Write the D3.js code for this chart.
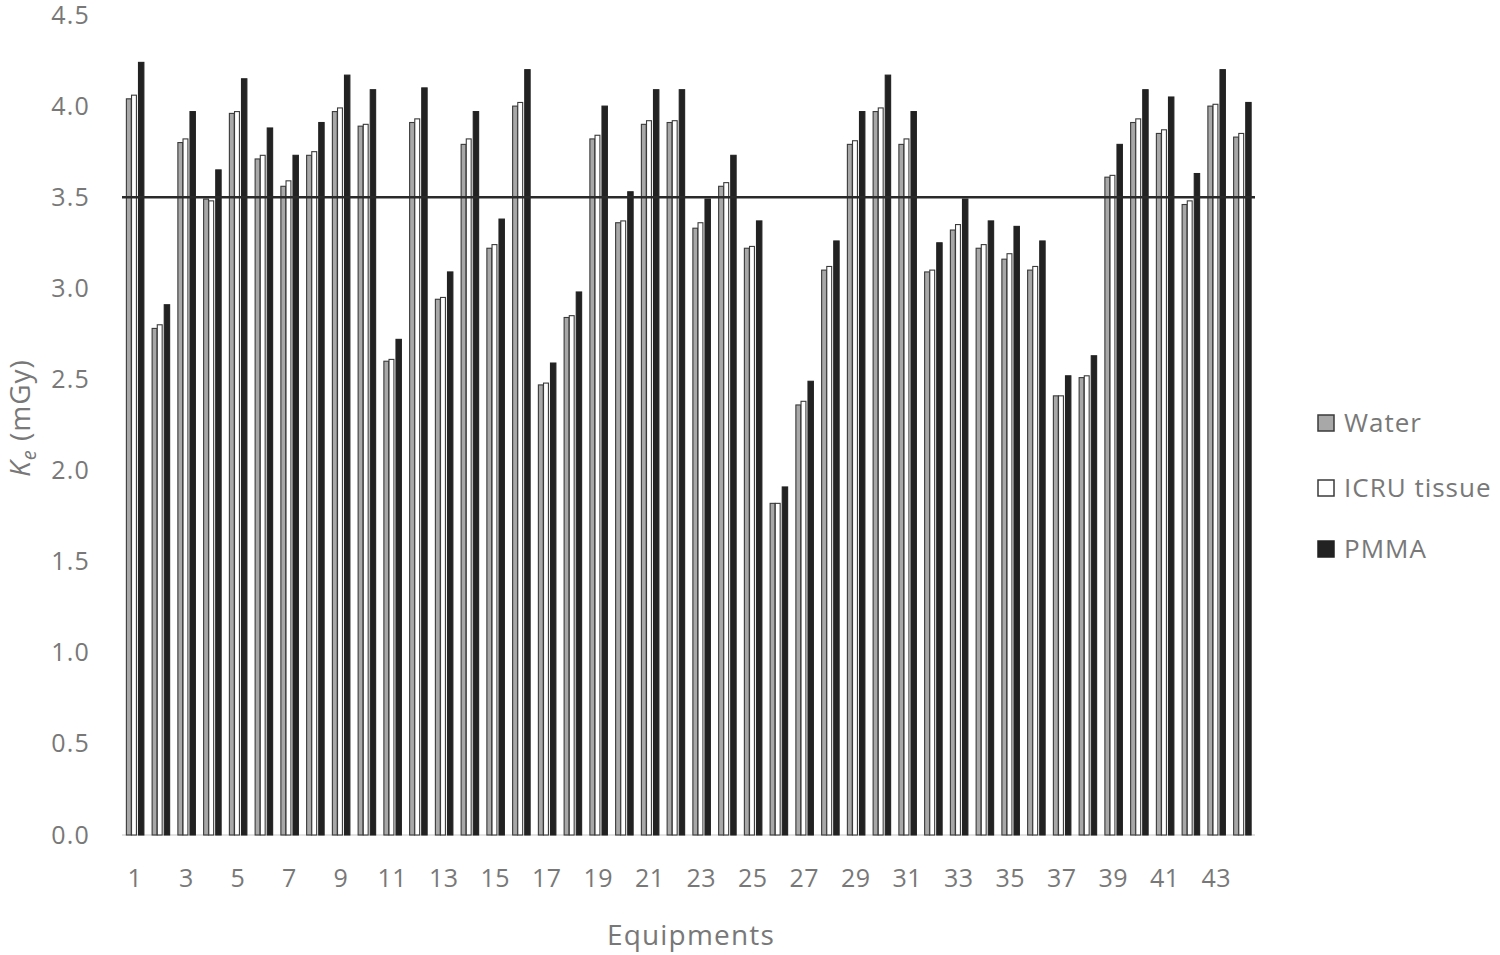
<!DOCTYPE html>
<html><head><meta charset="utf-8">
<script src="https://cdn.jsdelivr.net/npm/d3@7"></script>
<style>body{margin:0;background:#fff;} svg{display:block;font-family:"Open Sans",sans-serif;}</style>
</head><body>
<svg id="c" width="1500" height="955"></svg>
<script>
const equipments = d3.range(1, 45);
const water = [4.04,2.78,3.80,3.49,3.96,3.71,3.56,3.73,3.97,3.89,2.60,3.91,2.94,3.79,3.22,4.00,2.47,2.84,3.82,3.36,3.90,3.91,3.33,3.56,3.22,1.82,2.36,3.10,3.79,3.97,3.79,3.09,3.32,3.22,3.16,3.10,2.41,2.51,3.61,3.91,3.85,3.46,4.00,3.83];
const icru  = [4.06,2.80,3.82,3.48,3.97,3.73,3.59,3.75,3.99,3.90,2.61,3.93,2.95,3.82,3.24,4.02,2.48,2.85,3.84,3.37,3.92,3.92,3.36,3.58,3.23,1.82,2.38,3.12,3.81,3.99,3.82,3.10,3.35,3.24,3.19,3.12,2.41,2.52,3.62,3.93,3.87,3.48,4.01,3.85];
const pmma  = [4.24,2.91,3.97,3.65,4.15,3.88,3.73,3.91,4.17,4.09,2.72,4.10,3.09,3.97,3.38,4.20,2.59,2.98,4.00,3.53,4.09,4.09,3.49,3.73,3.37,1.91,2.49,3.26,3.97,4.17,3.97,3.25,3.49,3.37,3.34,3.26,2.52,2.63,3.79,4.09,4.05,3.63,4.20,4.02];
const seriesNames = ["Water","ICRU tissue","PMMA"];
const yTicks = [0,0.5,1,1.5,2,2.5,3,3.5,4,4.5];
const refLevel = 3.5;

const svg = d3.select("#c");
const x0 = 122, x1 = 1255, yTop = 15, yBot = 835;
const x = d3.scaleBand().domain(equipments).range([x0, x1]).paddingInner(0).paddingOuter(0);
const y = d3.scaleLinear().domain([0, 4.5]).range([yBot, yTop]);
const bw = x.bandwidth();
const textCol = "#787878";

const series = [
  {name:"Water", vals:water, fill:"#a8a8a8", stroke:"#3a3a3a", off:0.17, w:0.19},
  {name:"ICRU tissue", vals:icru, fill:"#ffffff", stroke:"#3a3a3a", off:0.37, w:0.19},
  {name:"PMMA", vals:pmma, fill:"#222222", stroke:"#222222", off:0.64, w:0.21}
];

// baseline
svg.append("line").attr("x1", x0).attr("x2", x1).attr("y1", y(0)).attr("y2", y(0))
  .attr("stroke", "#d9d9d9").attr("stroke-width", 1.5);

series.forEach(s => {
  svg.append("g").selectAll("rect").data(equipments).join("rect")
    .attr("x", d => x(d) + s.off*bw)
    .attr("width", s.w*bw)
    .attr("y", (d,i) => y(s.vals[i]))
    .attr("height", (d,i) => y(0) - y(s.vals[i]))
    .attr("fill", s.fill).attr("stroke", s.stroke).attr("stroke-width", 1.1);
});

// reference line
svg.append("line").attr("x1", x0).attr("x2", x1).attr("y1", y(refLevel)).attr("y2", y(refLevel))
  .attr("stroke", "#2a2a2a").attr("stroke-width", 2.6);

// y axis
const yAxis = d3.axisLeft(y).tickValues(yTicks).tickFormat(d3.format(".1f")).tickSize(0).tickPadding(0);
const gy = svg.append("g").attr("transform", `translate(90,0)`).call(yAxis);
gy.select(".domain").remove();
gy.selectAll("text").attr("fill", textCol).attr("font-size", 25).attr("letter-spacing", 1.2).attr("font-family", "Open Sans");

// x axis
const xAxis = d3.axisBottom(x).tickValues(equipments.filter(d => d % 2 === 1)).tickSize(0).tickPadding(0);
const gx = svg.append("g").attr("transform", `translate(0,869)`).call(xAxis);
gx.select(".domain").remove();
gx.selectAll("text").attr("fill", textCol).attr("font-size", 25).attr("letter-spacing", 0.5).attr("font-family", "Open Sans");

// axis titles
svg.append("text").attr("x", 691).attr("y", 945).attr("text-anchor", "middle")
  .attr("fill", textCol).attr("font-size", 28).attr("letter-spacing", 1.2).text("Equipments");
const yt = svg.append("text").attr("transform", "translate(30,418) rotate(-90)")
  .attr("text-anchor", "middle").attr("fill", textCol).attr("font-size", 28).attr("letter-spacing", 1);
yt.append("tspan").attr("font-style", "italic").text("K");
yt.append("tspan").attr("font-style", "italic").attr("font-size", 20).attr("dy", 6).text("e");
yt.append("tspan").attr("dy", -6).text(" (mGy)");

// legend
const legY = [423, 488, 549];
series.forEach((s, i) => {
  svg.append("rect").attr("x", 1318).attr("y", legY[i] - 8).attr("width", 16).attr("height", 16)
    .attr("fill", s.fill).attr("stroke", s.stroke).attr("stroke-width", 1.5);
  svg.append("text").attr("x", 1344).attr("y", legY[i]).attr("dy", "0.35em")
    .attr("fill", textCol).attr("font-size", 26).attr("letter-spacing", 1).text(seriesNames[i]);
});
</script>
</body></html>
